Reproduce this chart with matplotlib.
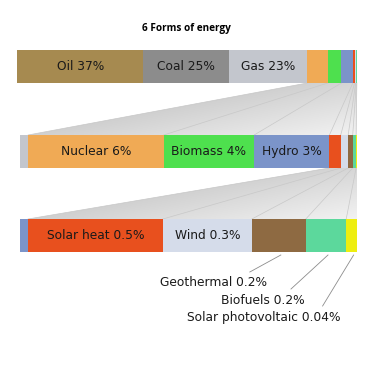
import numpy as np
import matplotlib
matplotlib.use("Agg")
import matplotlib.pyplot as plt
from matplotlib.colors import LinearSegmentedColormap
from matplotlib.patches import Polygon

# data (share of world energy, %)
names = ["Oil", "Coal", "Gas", "Nuclear", "Biomass", "Hydro",
         "Solar heat", "Wind", "Geothermal", "Biofuels", "Solar photovoltaic"]
values = [37, 25, 23, 6, 4, 3.33, 0.5, 0.33, 0.2, 0.15, 0.04]
labels = ["37%", "25%", "23%", "6%", "4%", "3%", "0.5%", "0.3%", "0.2%", "0.2%", "0.04%"]
colors = ["#a68a50", "#8c8c8c", "#c3c6cd", "#f0aa55", "#4ee04e", "#7b94c9",
          "#e8501e", "#d5dcea", "#8e6a42", "#5cd89c", "#eeee10"]

# which segment each row starts with, and how much of the previous one peeks in
row_start = [0, 3, 6]
row_lead = [0, 0.36, 0.03]
inside_labels = [[0, 1, 2], [3, 4, 5], [6, 7]]
outside_labels = [8, 9, 10]

left = np.concatenate([[0], np.cumsum(values)[:-1]])
total = sum(values)

fig = plt.figure(figsize=(3.75, 3.75), dpi=100)
W = H = 375.0

# background axes in pixel coords (origin top-left)
bg = fig.add_axes([0, 0, 1, 1], zorder=0)
bg.set_xlim(0, W)
bg.set_ylim(H, 0)
bg.axis("off")

bar_x0, bar_x1 = 17, 357
row_tops = [50, 135, 219]
row_h = 33

axes = []
for r, top in enumerate(row_tops):
    x0 = bar_x0 if r == 0 else 20
    ax = fig.add_axes([x0 / W, 1 - (top + row_h) / H, (bar_x1 - x0) / W, row_h / H], zorder=2)
    lo = left[row_start[r]] - row_lead[r]
    ax.barh(0, values, left=left, height=1, color=colors, linewidth=0)
    ax.set_xlim(lo, total)
    ax.set_ylim(-0.5, 0.5)
    ax.axis("off")
    for i in inside_labels[r]:
        ax.text(left[i] + values[i] / 2, 0, f"{names[i]} {labels[i]}",
                ha="center", va="center", fontsize=8.8, color="#1a1a1a")
    axes.append(ax)


def to_bg(ax, x, yfrac):
    disp = ax.get_xaxis_transform().transform((x, yfrac))
    return bg.transData.inverted().transform(disp)


cmap = LinearSegmentedColormap.from_list("fade", ["#f2f2f2", "#b3b3b3"])
for r in range(2):
    up, dn = axes[r], axes[r + 1]
    s = row_start[r + 1]
    a = to_bg(up, left[s], 0)
    b = to_bg(up, total, 0)
    c = to_bg(dn, total, 1)
    d = to_bg(dn, left[s], 1)
    poly = Polygon([a, b, c, d], closed=True, facecolor="none", edgecolor="none")
    bg.add_patch(poly)
    gy, gx = np.mgrid[0:1:100j, 0:1:200j]
    grad = 0.45 * gy + 0.55 * (1 - gx)
    im = bg.imshow(grad, cmap=cmap, aspect="auto", vmin=0, vmax=1,
                   extent=[d[0], c[0], d[1], a[1]], origin="lower", zorder=1)
    im.set_clip_path(poly)
    for i in range(s, len(values)):
        p = to_bg(up, left[i], 0)
        q = to_bg(dn, left[i], 1)
        bg.plot([p[0], q[0]], [p[1], q[1]], color="#c8c8c8", lw=0.5, zorder=2)
    bg.set_xlim(0, W)
    bg.set_ylim(H, 0)

# labels under the last row for the thin segments
offsets = [(-31, 17, 17, 10), (-37, 34, 14, 11), (-31, 51, 18, 12)]
for i, (dx, dy, tx, ty) in zip(outside_labels, offsets):
    p = to_bg(axes[2], left[i] + values[i] / 2, 0)
    p = (p[0] + 2, p[1] + 3)
    e = (p[0] + dx, p[1] + dy)
    bg.plot([p[0], e[0]], [p[1], e[1]], color="#8c8c8c", lw=0.6, zorder=2)
    bg.text(e[0] + tx, e[1] + ty, f"{names[i]} {labels[i]}",
            ha="right", va="center", fontsize=8.8, color="#1a1a1a")

bg.text(W / 2 - 1, 29, "6 Forms of energy", ha="center", va="center",
        fontsize=7.2, fontweight="bold", family=["Open Sans", "DejaVu Sans"])

fig.savefig("out.png", dpi=100)
